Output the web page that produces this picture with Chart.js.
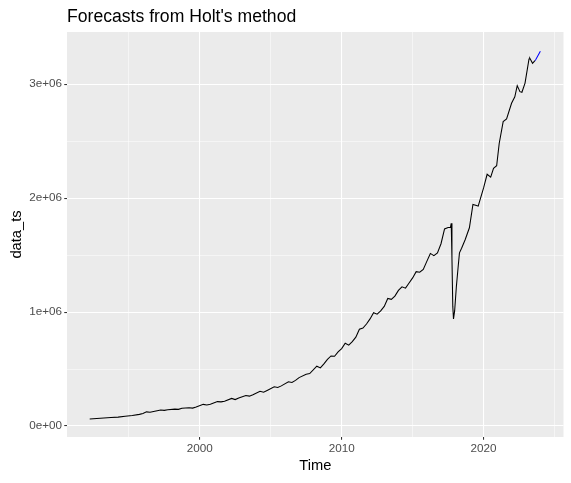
<!DOCTYPE html>
<html>
<head>
<meta charset="utf-8">
<script src="https://cdn.jsdelivr.net/npm/chart.js@4"></script>
<style>
  html, body { margin: 0; padding: 0; background: #ffffff; }
  #wrap { width: 571px; height: 483px; position: relative; }
</style>
</head>
<body>
<div id="wrap"><canvas id="holtChart"></canvas></div>
<script>
// observed series (decimal year, value)
const timeObs = [
  1992.25, 1992.75, 1993.25, 1993.75, 1994.25, 1994.75, 1995.25, 1995.75, 1996.0, 1996.25,
  1996.5, 1996.75, 1997.25, 1997.5, 1997.75, 1998.25, 1998.5, 1998.75, 1999.25, 1999.5,
  1999.75, 2000.25, 2000.5, 2000.75, 2001.25, 2001.5, 2001.75, 2002.25, 2002.5, 2002.75,
  2003.25, 2003.5, 2003.75, 2004.25, 2004.5, 2004.75, 2005.25, 2005.5, 2005.75, 2006.25,
  2006.5, 2006.75, 2007.0, 2007.5, 2007.75, 2008.25, 2008.5, 2008.75, 2009.0, 2009.25,
  2009.5, 2009.75, 2010.0, 2010.25, 2010.5, 2010.75, 2011.0, 2011.25, 2011.5, 2011.75,
  2012.0, 2012.25, 2012.5, 2012.75, 2013.0, 2013.25, 2013.5, 2013.75, 2014.0, 2014.25,
  2014.5, 2014.75, 2015.0, 2015.25, 2015.5, 2015.75, 2016.0, 2016.25, 2016.5, 2016.75,
  2017.0, 2017.25, 2017.5, 2017.67, 2017.72, 2017.77, 2017.83, 2017.88, 2017.96, 2018.08,
  2018.21, 2018.3, 2018.45, 2018.7, 2019.0, 2019.25, 2019.5, 2019.62, 2020.0, 2020.25,
  2020.5, 2020.7, 2020.92, 2021.1, 2021.38, 2021.62, 2021.97, 2022.2, 2022.37, 2022.56,
  2022.7, 2022.92, 2023.2, 2023.25, 2023.45, 2023.62
];
const dataTs = [
  62000, 66000, 70000, 74000, 78000, 85000, 92000, 102000, 110000, 124000,
  120000, 128000, 140000, 137000, 142000, 148000, 146000, 155000, 160000, 157000,
  166000, 190000, 185000, 190000, 214000, 212000, 218000, 242000, 232000, 246000,
  268000, 262000, 275000, 305000, 296000, 312000, 344000, 338000, 352000, 388000,
  382000, 400000, 425000, 455000, 460000, 525000, 510000, 545000, 585000, 615000,
  612000, 650000, 680000, 726000, 710000, 740000, 780000, 850000, 860000, 895000,
  940000, 995000, 982000, 1010000, 1050000, 1120000, 1112000, 1140000, 1190000, 1222000,
  1210000, 1255000, 1300000, 1355000, 1350000, 1375000, 1445000, 1515000, 1495000, 1520000,
  1600000, 1730000, 1742000, 1745000, 1780000, 1480000, 1050000, 940000, 1010000, 1220000,
  1400000, 1520000, 1560000, 1635000, 1740000, 1945000, 1935000, 1930000, 2090000, 2210000,
  2185000, 2262000, 2285000, 2480000, 2672000, 2695000, 2833000, 2890000, 2988000, 2935000,
  2930000, 3010000, 3222000, 3230000, 3184000, 3207000
];

// Holt forecast (point forecasts only)
const timeFc = [2023.62, 2023.66, 2024.0];
const forecastTs = [3207000, 3213000, 3290000];

// axes
const xMajor = [2000, 2010, 2020];
const xMinor = [1995, 2005, 2015, 2025];
const xTickLabels = ["2000", "2010", "2020"];
const yMajor = [0, 1000000, 2000000, 3000000];
const yMinor = [500000, 1500000, 2500000];
const yTickLabels = ["0e+00", "1e+06", "2e+06", "3e+06"];

const FONT = "'Liberation Sans', Arial, sans-serif";

const panelBg = {
  id: "panelBg",
  beforeDraw(chart) {
    const { ctx, chartArea: a } = chart;
    ctx.save();
    ctx.fillStyle = "#EBEBEB";
    ctx.fillRect(a.left, a.top, a.right - a.left, a.bottom - a.top);
    ctx.restore();
  },
  afterDraw(chart) {
    const { ctx, chartArea: a } = chart;
    ctx.save();
    ctx.fillStyle = "#000000";
    ctx.font = "17.6px " + FONT;
    ctx.textAlign = "left";
    ctx.textBaseline = "alphabetic";
    ctx.fillText("Forecasts from Holt's method", a.left, 22);
    ctx.restore();
  }
};

const isMajor = (list, v) => list.some(m => Math.abs(m - v) < 1e-6);

const ctx = document.getElementById("holtChart").getContext("2d");
new Chart(ctx, {
  type: "line",
  data: {
    datasets: [
      {
        label: "data_ts",
        data: timeObs.map((t, i) => ({ x: t, y: dataTs[i] })),
        borderColor: "#000000",
        borderWidth: 1.07,
        pointRadius: 0,
        tension: 0,
        fill: false
      },
      {
        label: "forecast",
        data: timeFc.map((t, i) => ({ x: t, y: forecastTs[i] })),
        borderColor: "#0000FF",
        borderWidth: 1.07,
        pointRadius: 0,
        tension: 0,
        fill: false
      }
    ]
  },
  options: {
    responsive: true,
    maintainAspectRatio: false,
    animation: false,
    layout: { padding: { top: 32, right: 7.5, left: 0, bottom: 0 } },
    plugins: {
      legend: { display: false },
      tooltip: { enabled: false },
      title: { display: false }
    },
    scales: {
      x: {
        type: "linear",
        min: 1990.65,
        max: 2025.63,
        afterBuildTicks: s => { s.ticks = xMajor.concat(xMinor).sort((a, b) => a - b).map(v => ({ value: v })); },
        afterFit: s => { s.height = 46; },
        border: { display: false },
        grid: {
          color: "#FFFFFF",
          lineWidth: c => isMajor(xMajor, c.tick.value) ? 1.07 : 0.53,
          tickLength: 2.75,
          tickColor: c => isMajor(xMajor, c.tick.value) ? "#333333" : "rgba(0,0,0,0)",
          tickWidth: 1.07
        },
        ticks: {
          autoSkip: false,
          maxRotation: 0,
          padding: 2.5,
          color: "#4D4D4D",
          font: { family: FONT, size: 11.7 },
          callback: v => { const i = xMajor.indexOf(v); return i >= 0 ? xTickLabels[i] : ""; }
        },
        title: {
          display: true,
          text: "Time",
          color: "#000000",
          font: { family: FONT, size: 14.7 },
          padding: { top: 0, bottom: 8.2 }
        }
      },
      y: {
        type: "linear",
        min: -96600,
        max: 3458700,
        afterBuildTicks: s => { s.ticks = yMajor.concat(yMinor).sort((a, b) => a - b).map(v => ({ value: v })); },
        afterFit: s => { s.width = 67; },
        border: { display: false },
        grid: {
          color: "#FFFFFF",
          lineWidth: c => isMajor(yMajor, c.tick.value) ? 1.07 : 0.53,
          tickLength: 2.75,
          tickColor: c => isMajor(yMajor, c.tick.value) ? "#333333" : "rgba(0,0,0,0)",
          tickWidth: 1.07
        },
        ticks: {
          autoSkip: false,
          padding: 2.2,
          color: "#4D4D4D",
          font: { family: FONT, size: 11.7 },
          callback: v => { const i = yMajor.indexOf(v); return i >= 0 ? yTickLabels[i] : ""; }
        },
        title: {
          display: true,
          text: "data_ts",
          color: "#000000",
          font: { family: FONT, size: 14.7 },
          padding: { top: 8.2, bottom: 0 }
        }
      }
    }
  },
  plugins: [panelBg]
});
</script>
</body>
</html>
